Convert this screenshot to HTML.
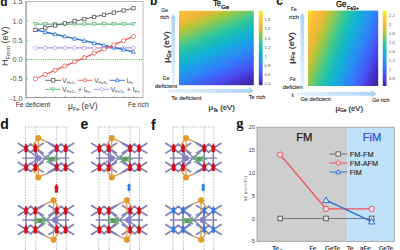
<!DOCTYPE html>
<html><head><meta charset="utf-8"><style>
html,body{margin:0;padding:0;background:#fff;width:400px;height:250px;overflow:hidden}
svg{display:block;font-family:"Liberation Sans", sans-serif}
</style></head><body>
<svg width="400" height="250" viewBox="0 0 400 250">
<defs><linearGradient id="gb" gradientUnits="userSpaceOnUse" x1="216.3" y1="97.8" x2="174.86" y2="1.13"><stop offset="0.000" stop-color="#3e26a8"/><stop offset="0.070" stop-color="#4636d0"/><stop offset="0.143" stop-color="#4852f4"/><stop offset="0.210" stop-color="#3a6cfb"/><stop offset="0.286" stop-color="#2d87f7"/><stop offset="0.360" stop-color="#1e9ee8"/><stop offset="0.429" stop-color="#11b1d6"/><stop offset="0.500" stop-color="#1cbdb8"/><stop offset="0.571" stop-color="#37c897"/><stop offset="0.640" stop-color="#72c968"/><stop offset="0.714" stop-color="#b0c63a"/><stop offset="0.780" stop-color="#e8b935"/><stop offset="0.857" stop-color="#fbbd3a"/><stop offset="0.930" stop-color="#f6d62c"/><stop offset="1.000" stop-color="#f9fb15"/></linearGradient><linearGradient id="gc" gradientUnits="userSpaceOnUse" x1="391.67" y1="41.76" x2="303.6" y2="8.96"><stop offset="0.000" stop-color="#3e26a8"/><stop offset="0.070" stop-color="#4636d0"/><stop offset="0.143" stop-color="#4852f4"/><stop offset="0.210" stop-color="#3a6cfb"/><stop offset="0.286" stop-color="#2d87f7"/><stop offset="0.360" stop-color="#1e9ee8"/><stop offset="0.429" stop-color="#11b1d6"/><stop offset="0.500" stop-color="#1cbdb8"/><stop offset="0.571" stop-color="#37c897"/><stop offset="0.640" stop-color="#72c968"/><stop offset="0.714" stop-color="#b0c63a"/><stop offset="0.780" stop-color="#e8b935"/><stop offset="0.857" stop-color="#fbbd3a"/><stop offset="0.930" stop-color="#f6d62c"/><stop offset="1.000" stop-color="#f9fb15"/></linearGradient><linearGradient id="cb" gradientUnits="userSpaceOnUse" x1="0" y1="85.2" x2="0" y2="10.8"><stop offset="0.000" stop-color="#3e26a8"/><stop offset="0.070" stop-color="#4636d0"/><stop offset="0.143" stop-color="#4852f4"/><stop offset="0.210" stop-color="#3a6cfb"/><stop offset="0.286" stop-color="#2d87f7"/><stop offset="0.360" stop-color="#1e9ee8"/><stop offset="0.429" stop-color="#11b1d6"/><stop offset="0.500" stop-color="#1cbdb8"/><stop offset="0.571" stop-color="#37c897"/><stop offset="0.640" stop-color="#72c968"/><stop offset="0.714" stop-color="#b0c63a"/><stop offset="0.780" stop-color="#e8b935"/><stop offset="0.857" stop-color="#fbbd3a"/><stop offset="0.930" stop-color="#f6d62c"/><stop offset="1.000" stop-color="#f9fb15"/></linearGradient><linearGradient id="cc" gradientUnits="userSpaceOnUse" x1="0" y1="86" x2="0" y2="10.6"><stop offset="0.000" stop-color="#3e26a8"/><stop offset="0.070" stop-color="#4636d0"/><stop offset="0.143" stop-color="#4852f4"/><stop offset="0.210" stop-color="#3a6cfb"/><stop offset="0.286" stop-color="#2d87f7"/><stop offset="0.360" stop-color="#1e9ee8"/><stop offset="0.429" stop-color="#11b1d6"/><stop offset="0.500" stop-color="#1cbdb8"/><stop offset="0.571" stop-color="#37c897"/><stop offset="0.640" stop-color="#72c968"/><stop offset="0.714" stop-color="#b0c63a"/><stop offset="0.780" stop-color="#e8b935"/><stop offset="0.857" stop-color="#fbbd3a"/><stop offset="0.930" stop-color="#f6d62c"/><stop offset="1.000" stop-color="#f9fb15"/></linearGradient><linearGradient id="av" x1="0" y1="1" x2="0" y2="0"><stop offset="0" stop-color="#eaf4fd"/><stop offset="1" stop-color="#a9d2f5"/></linearGradient><linearGradient id="ah" x1="0" y1="0" x2="1" y2="0"><stop offset="0" stop-color="#eaf4fd"/><stop offset="1" stop-color="#a9d2f5"/></linearGradient></defs>
<rect x="26" y="1.5" width="117" height="96" fill="none" stroke="#b4b4b4" stroke-width="0.9"/>
<polyline points="26,1.5 26,97.5 143,97.5" fill="none" stroke="#9a9a9a" stroke-width="1"/>
<line x1="26" y1="1.75" x2="28" y2="1.75" stroke="#9a9a9a" stroke-width="0.8"/>
<line x1="26" y1="21.00" x2="28" y2="21.00" stroke="#9a9a9a" stroke-width="0.8"/>
<line x1="26" y1="40.25" x2="28" y2="40.25" stroke="#9a9a9a" stroke-width="0.8"/>
<line x1="26" y1="59.50" x2="28" y2="59.50" stroke="#9a9a9a" stroke-width="0.8"/>
<line x1="26" y1="78.75" x2="28" y2="78.75" stroke="#9a9a9a" stroke-width="0.8"/>
<line x1="26" y1="98.00" x2="28" y2="98.00" stroke="#9a9a9a" stroke-width="0.8"/>
<line x1="26" y1="11.38" x2="27.2" y2="11.38" stroke="#9a9a9a" stroke-width="0.6"/>
<line x1="26" y1="30.62" x2="27.2" y2="30.62" stroke="#9a9a9a" stroke-width="0.6"/>
<line x1="26" y1="49.88" x2="27.2" y2="49.88" stroke="#9a9a9a" stroke-width="0.6"/>
<line x1="26" y1="69.12" x2="27.2" y2="69.12" stroke="#9a9a9a" stroke-width="0.6"/>
<line x1="26" y1="88.38" x2="27.2" y2="88.38" stroke="#9a9a9a" stroke-width="0.6"/>
<line x1="35.40" y1="97.5" x2="35.40" y2="96" stroke="#9a9a9a" stroke-width="0.6"/>
<line x1="45.20" y1="97.5" x2="45.20" y2="96" stroke="#9a9a9a" stroke-width="0.6"/>
<line x1="55.00" y1="97.5" x2="55.00" y2="96" stroke="#9a9a9a" stroke-width="0.6"/>
<line x1="64.80" y1="97.5" x2="64.80" y2="96" stroke="#9a9a9a" stroke-width="0.6"/>
<line x1="74.60" y1="97.5" x2="74.60" y2="96" stroke="#9a9a9a" stroke-width="0.6"/>
<line x1="84.40" y1="97.5" x2="84.40" y2="96" stroke="#9a9a9a" stroke-width="0.6"/>
<line x1="94.20" y1="97.5" x2="94.20" y2="96" stroke="#9a9a9a" stroke-width="0.6"/>
<line x1="104.00" y1="97.5" x2="104.00" y2="96" stroke="#9a9a9a" stroke-width="0.6"/>
<line x1="113.80" y1="97.5" x2="113.80" y2="96" stroke="#9a9a9a" stroke-width="0.6"/>
<line x1="123.60" y1="97.5" x2="123.60" y2="96" stroke="#9a9a9a" stroke-width="0.6"/>
<line x1="133.40" y1="97.5" x2="133.40" y2="96" stroke="#9a9a9a" stroke-width="0.6"/>
<text x="22.5" y="4.35" font-size="7.2" fill="#505050" text-anchor="end">1.5</text>
<text x="22.5" y="23.60" font-size="7.2" fill="#505050" text-anchor="end">1.0</text>
<text x="22.5" y="42.85" font-size="7.2" fill="#505050" text-anchor="end">0.5</text>
<text x="22.5" y="62.10" font-size="7.2" fill="#505050" text-anchor="end">0.0</text>
<text x="22.5" y="81.35" font-size="7.2" fill="#505050" text-anchor="end">-0.5</text>
<text x="22.5" y="100.60" font-size="7.2" fill="#505050" text-anchor="end">-1.0</text>
<line x1="26" y1="59.5" x2="143" y2="59.5" stroke="#3aa63a" stroke-width="0.8" stroke-dasharray="1.2 1.2"/>
<polyline points="35.40,47.95 45.20,47.95 55.00,47.95 64.80,47.95 74.60,47.95 84.40,47.95 94.20,47.95 104.00,47.95 113.80,47.95 123.60,47.95 133.40,47.95" fill="none" stroke="#b292e8" stroke-width="1.2"/>
<polygon points="35.40,45.67 33.12,47.95 35.40,50.23 37.68,47.95" fill="#fff" stroke="#b292e8" stroke-width="0.8"/>
<polygon points="45.20,45.67 42.92,47.95 45.20,50.23 47.48,47.95" fill="#fff" stroke="#b292e8" stroke-width="0.8"/>
<polygon points="55.00,45.67 52.72,47.95 55.00,50.23 57.28,47.95" fill="#fff" stroke="#b292e8" stroke-width="0.8"/>
<polygon points="64.80,45.67 62.52,47.95 64.80,50.23 67.08,47.95" fill="#fff" stroke="#b292e8" stroke-width="0.8"/>
<polygon points="74.60,45.67 72.32,47.95 74.60,50.23 76.88,47.95" fill="#fff" stroke="#b292e8" stroke-width="0.8"/>
<polygon points="84.40,45.67 82.12,47.95 84.40,50.23 86.68,47.95" fill="#fff" stroke="#b292e8" stroke-width="0.8"/>
<polygon points="94.20,45.67 91.92,47.95 94.20,50.23 96.48,47.95" fill="#fff" stroke="#b292e8" stroke-width="0.8"/>
<polygon points="104.00,45.67 101.72,47.95 104.00,50.23 106.28,47.95" fill="#fff" stroke="#b292e8" stroke-width="0.8"/>
<polygon points="113.80,45.67 111.52,47.95 113.80,50.23 116.08,47.95" fill="#fff" stroke="#b292e8" stroke-width="0.8"/>
<polygon points="123.60,45.67 121.32,47.95 123.60,50.23 125.88,47.95" fill="#fff" stroke="#b292e8" stroke-width="0.8"/>
<polygon points="133.40,45.67 131.12,47.95 133.40,50.23 135.68,47.95" fill="#fff" stroke="#b292e8" stroke-width="0.8"/>
<polyline points="35.40,24.08 45.20,24.08 55.00,24.08 64.80,24.08 74.60,24.08 84.40,24.08 94.20,24.08 104.00,24.08 113.80,24.08 123.60,24.08 133.40,24.08" fill="none" stroke="#5cb87a" stroke-width="1.2"/>
<polygon points="35.40,26.17 33.31,22.56 37.49,22.56" fill="#fff" stroke="#5cb87a" stroke-width="0.8"/>
<polygon points="45.20,26.17 43.11,22.56 47.29,22.56" fill="#fff" stroke="#5cb87a" stroke-width="0.8"/>
<polygon points="55.00,26.17 52.91,22.56 57.09,22.56" fill="#fff" stroke="#5cb87a" stroke-width="0.8"/>
<polygon points="64.80,26.17 62.71,22.56 66.89,22.56" fill="#fff" stroke="#5cb87a" stroke-width="0.8"/>
<polygon points="74.60,26.17 72.51,22.56 76.69,22.56" fill="#fff" stroke="#5cb87a" stroke-width="0.8"/>
<polygon points="84.40,26.17 82.31,22.56 86.49,22.56" fill="#fff" stroke="#5cb87a" stroke-width="0.8"/>
<polygon points="94.20,26.17 92.11,22.56 96.29,22.56" fill="#fff" stroke="#5cb87a" stroke-width="0.8"/>
<polygon points="104.00,26.17 101.91,22.56 106.09,22.56" fill="#fff" stroke="#5cb87a" stroke-width="0.8"/>
<polygon points="113.80,26.17 111.71,22.56 115.89,22.56" fill="#fff" stroke="#5cb87a" stroke-width="0.8"/>
<polygon points="123.60,26.17 121.51,22.56 125.69,22.56" fill="#fff" stroke="#5cb87a" stroke-width="0.8"/>
<polygon points="133.40,26.17 131.31,22.56 135.49,22.56" fill="#fff" stroke="#5cb87a" stroke-width="0.8"/>
<polyline points="35.40,29.86 45.20,32.05 55.00,34.24 64.80,36.44 74.60,38.63 84.40,40.83 94.20,43.02 104.00,45.22 113.80,47.41 123.60,49.61 133.40,51.80" fill="none" stroke="#3272d4" stroke-width="1.5"/>
<polygon points="35.40,27.77 33.31,31.38 37.49,31.38" fill="#fff" stroke="#3272d4" stroke-width="0.8"/>
<polygon points="45.20,29.96 43.11,33.57 47.29,33.57" fill="#fff" stroke="#3272d4" stroke-width="0.8"/>
<polygon points="55.00,32.15 52.91,35.76 57.09,35.76" fill="#fff" stroke="#3272d4" stroke-width="0.8"/>
<polygon points="64.80,34.35 62.71,37.96 66.89,37.96" fill="#fff" stroke="#3272d4" stroke-width="0.8"/>
<polygon points="74.60,36.54 72.51,40.15 76.69,40.15" fill="#fff" stroke="#3272d4" stroke-width="0.8"/>
<polygon points="84.40,38.74 82.31,42.35 86.49,42.35" fill="#fff" stroke="#3272d4" stroke-width="0.8"/>
<polygon points="94.20,40.93 92.11,44.54 96.29,44.54" fill="#fff" stroke="#3272d4" stroke-width="0.8"/>
<polygon points="104.00,43.13 101.91,46.74 106.09,46.74" fill="#fff" stroke="#3272d4" stroke-width="0.8"/>
<polygon points="113.80,45.32 111.71,48.93 115.89,48.93" fill="#fff" stroke="#3272d4" stroke-width="0.8"/>
<polygon points="123.60,47.52 121.51,51.13 125.69,51.13" fill="#fff" stroke="#3272d4" stroke-width="0.8"/>
<polygon points="133.40,49.71 131.31,53.32 135.49,53.32" fill="#fff" stroke="#3272d4" stroke-width="0.8"/>
<polyline points="35.40,29.86 45.20,27.70 55.00,25.54 64.80,23.39 74.60,21.23 84.40,19.07 94.20,16.92 104.00,14.76 113.80,12.61 123.60,10.45 133.40,8.29" fill="none" stroke="#5a5a5a" stroke-width="1.0"/>
<rect x="33.75" y="28.21" width="3.30" height="3.30" fill="#fff" stroke="#5a5a5a" stroke-width="0.8"/>
<rect x="43.55" y="26.05" width="3.30" height="3.30" fill="#fff" stroke="#5a5a5a" stroke-width="0.8"/>
<rect x="53.35" y="23.89" width="3.30" height="3.30" fill="#fff" stroke="#5a5a5a" stroke-width="0.8"/>
<rect x="63.15" y="21.74" width="3.30" height="3.30" fill="#fff" stroke="#5a5a5a" stroke-width="0.8"/>
<rect x="72.95" y="19.58" width="3.30" height="3.30" fill="#fff" stroke="#5a5a5a" stroke-width="0.8"/>
<rect x="82.75" y="17.42" width="3.30" height="3.30" fill="#fff" stroke="#5a5a5a" stroke-width="0.8"/>
<rect x="92.55" y="15.27" width="3.30" height="3.30" fill="#fff" stroke="#5a5a5a" stroke-width="0.8"/>
<rect x="102.35" y="13.11" width="3.30" height="3.30" fill="#fff" stroke="#5a5a5a" stroke-width="0.8"/>
<rect x="112.15" y="10.96" width="3.30" height="3.30" fill="#fff" stroke="#5a5a5a" stroke-width="0.8"/>
<rect x="121.95" y="8.80" width="3.30" height="3.30" fill="#fff" stroke="#5a5a5a" stroke-width="0.8"/>
<rect x="131.75" y="6.64" width="3.30" height="3.30" fill="#fff" stroke="#5a5a5a" stroke-width="0.8"/>
<polyline points="35.40,78.75 45.20,74.52 55.00,70.28 64.80,66.05 74.60,61.81 84.40,57.57 94.20,53.34 104.00,49.10 113.80,44.87 123.60,40.64 133.40,36.40" fill="none" stroke="#f0595a" stroke-width="1.3"/>
<circle cx="35.40" cy="78.75" r="2.10" fill="#fff" stroke="#f0595a" stroke-width="0.8"/>
<circle cx="45.20" cy="74.52" r="2.10" fill="#fff" stroke="#f0595a" stroke-width="0.8"/>
<circle cx="55.00" cy="70.28" r="2.10" fill="#fff" stroke="#f0595a" stroke-width="0.8"/>
<circle cx="64.80" cy="66.05" r="2.10" fill="#fff" stroke="#f0595a" stroke-width="0.8"/>
<circle cx="74.60" cy="61.81" r="2.10" fill="#fff" stroke="#f0595a" stroke-width="0.8"/>
<circle cx="84.40" cy="57.57" r="2.10" fill="#fff" stroke="#f0595a" stroke-width="0.8"/>
<circle cx="94.20" cy="53.34" r="2.10" fill="#fff" stroke="#f0595a" stroke-width="0.8"/>
<circle cx="104.00" cy="49.10" r="2.10" fill="#fff" stroke="#f0595a" stroke-width="0.8"/>
<circle cx="113.80" cy="44.87" r="2.10" fill="#fff" stroke="#f0595a" stroke-width="0.8"/>
<circle cx="123.60" cy="40.64" r="2.10" fill="#fff" stroke="#f0595a" stroke-width="0.8"/>
<circle cx="133.40" cy="36.40" r="2.10" fill="#fff" stroke="#f0595a" stroke-width="0.8"/>
<line x1="45.2" y1="80.3" x2="61" y2="80.3" stroke="#5a5a5a" stroke-width="0.9"/>
<rect x="51.30" y="78.50" width="3.60" height="3.60" fill="#fff" stroke="#5a5a5a" stroke-width="0.75"/>
<line x1="77.5" y1="80.3" x2="92.5" y2="80.3" stroke="#f0595a" stroke-width="0.9"/>
<circle cx="85.00" cy="80.30" r="1.80" fill="#fff" stroke="#f0595a" stroke-width="0.75"/>
<line x1="109.5" y1="80.3" x2="125.2" y2="80.3" stroke="#3272d4" stroke-width="0.9"/>
<polygon points="117.35,78.32 115.37,81.74 119.33,81.74" fill="#fff" stroke="#3272d4" stroke-width="0.75"/>
<line x1="45.2" y1="89.4" x2="61" y2="89.4" stroke="#5cb87a" stroke-width="0.9"/>
<polygon points="53.10,91.38 51.12,87.96 55.08,87.96" fill="#fff" stroke="#5cb87a" stroke-width="0.75"/>
<line x1="94" y1="89.4" x2="109.5" y2="89.4" stroke="#b292e8" stroke-width="0.9"/>
<polygon points="101.75,87.24 99.59,89.40 101.75,91.56 103.91,89.40" fill="#fff" stroke="#b292e8" stroke-width="0.75"/>
<text x="62.3" y="82.6" font-size="7.2" fill="#4a4a4a" textLength="13.6" lengthAdjust="spacingAndGlyphs">V<tspan font-size="4.4" dy="1.4">Fe2+</tspan><tspan dy="-1.4" font-size="7.2"></tspan></text>
<text x="94.2" y="82.6" font-size="7.2" fill="#4a4a4a" textLength="13.8" lengthAdjust="spacingAndGlyphs">V<tspan font-size="4.4" dy="1.4">Fe3+</tspan><tspan dy="-1.4" font-size="7.2"></tspan></text>
<text x="126.5" y="82.6" font-size="7.2" fill="#4a4a4a" textLength="7" lengthAdjust="spacingAndGlyphs">I<tspan font-size="4.4" dy="1.4">Fe</tspan><tspan dy="-1.4" font-size="7.2"></tspan></text>
<text x="62.3" y="91.8" font-size="7.2" fill="#4a4a4a" textLength="28" lengthAdjust="spacingAndGlyphs">V<tspan font-size="4.4" dy="1.4">Fe2+</tspan><tspan dy="-1.4" font-size="7.2"> + I<tspan font-size="4.4" dy="1.4">Fe</tspan></tspan></text>
<text x="110.8" y="91.8" font-size="7.2" fill="#4a4a4a" textLength="28.7" lengthAdjust="spacingAndGlyphs">V<tspan font-size="4.4" dy="1.4">Fe3+</tspan><tspan dy="-1.4" font-size="7.2"> + I<tspan font-size="4.4" dy="1.4">Fe</tspan></tspan></text>
<text x="15.7" y="106.7" font-size="7" fill="#333" textLength="34.3" lengthAdjust="spacingAndGlyphs">Fe deficient</text>
<text x="128" y="106.5" font-size="7" fill="#333" textLength="20.8" lengthAdjust="spacingAndGlyphs">Fe rich</text>
<text x="68" y="108.8" font-size="9" fill="#333" textLength="29.5" lengthAdjust="spacingAndGlyphs">μ<tspan font-size="5.8" dy="1.8">Fe</tspan><tspan dy="-1.8"> (eV)</tspan></text>
<text transform="translate(8.1,66) rotate(-90)" font-size="9" fill="#333">H<tspan font-size="5.8" dy="1.8">Form</tspan><tspan dy="-1.8"> (eV)</tspan></text>
<text x="0.3" y="5.8" font-size="12" font-weight="bold" fill="#111">d</text>
<text x="150" y="5" font-size="12" font-weight="bold" fill="#111">b</text>
<rect x="179" y="10.8" width="74.8" height="74.4" fill="url(#gb)"/>
<rect x="258.8" y="10.8" width="3.8" height="74.4" fill="url(#cb)"/>
<text x="264.5" y="21.30" font-size="4.2" fill="#555">1.8</text>
<text x="264.5" y="30.40" font-size="4.2" fill="#555">1.6</text>
<text x="264.5" y="39.50" font-size="4.2" fill="#555">1.4</text>
<text x="264.5" y="48.60" font-size="4.2" fill="#555">1.2</text>
<text x="264.5" y="57.70" font-size="4.2" fill="#555">1</text>
<text x="264.5" y="66.80" font-size="4.2" fill="#555">0.8</text>
<text x="264.5" y="75.90" font-size="4.2" fill="#555">0.6</text>
<text x="264.5" y="85.00" font-size="4.2" fill="#555">0.4</text>
<text x="213.2" y="6.3" font-size="8.2" fill="#1a1a1a" stroke="#1a1a1a" stroke-width="0.35" textLength="7.6" lengthAdjust="spacingAndGlyphs" >Te</text>
<text x="221.2" y="9.4" font-size="5.4" fill="#1a1a1a" stroke="#1a1a1a" stroke-width="0.25" textLength="7.8" lengthAdjust="spacingAndGlyphs" >Ge</text>
<polygon points="171.5,85 171.5,18 170.6,18 173.3,14.3 176,18 175.1,18 175.1,85" fill="url(#av)"/>
<polygon points="168,88.9 249,88.9 249,87 253.5,90.8 249,94.6 249,92.7 168,92.7" fill="url(#ah)"/>
<text x="161.2" y="12.1" font-size="5.5" fill="#2e2e2e" stroke="#2e2e2e" stroke-width="0.12" textLength="6.8" lengthAdjust="spacingAndGlyphs" >Ge</text>
<text x="160.2" y="19.1" font-size="5.5" fill="#2e2e2e" stroke="#2e2e2e" stroke-width="0.12" textLength="8.9" lengthAdjust="spacingAndGlyphs" >rich</text>
<text x="162.6" y="79.9" font-size="5.5" fill="#2e2e2e" stroke="#2e2e2e" stroke-width="0.12" textLength="7" lengthAdjust="spacingAndGlyphs" >Ge</text>
<text x="154.9" y="88.1" font-size="5.8" fill="#2e2e2e" stroke="#2e2e2e" stroke-width="0.12" textLength="22.4" lengthAdjust="spacingAndGlyphs" >deficient</text>
<text x="171.3" y="99.8" font-size="6" fill="#2e2e2e" stroke="#2e2e2e" stroke-width="0.12" textLength="30" lengthAdjust="spacingAndGlyphs" >Te deficient</text>
<text x="248.8" y="99.1" font-size="5.2" fill="#2e2e2e" stroke="#2e2e2e" stroke-width="0.12" textLength="16.6" lengthAdjust="spacingAndGlyphs" >Te rich</text>
<text x="208.5" y="110.2" font-size="8" fill="#262626" stroke="#262626" stroke-width="0.2" textLength="26.3" lengthAdjust="spacingAndGlyphs">μ<tspan font-size="5" dy="1.3">Te</tspan><tspan dy="-1.3"> (eV)</tspan></text>
<text transform="translate(169.2,62.8) rotate(-90)" font-size="8" fill="#262626" stroke="#262626" stroke-width="0.2" textLength="31.5" lengthAdjust="spacingAndGlyphs">μ<tspan font-size="5" dy="1.3">Ge</tspan><tspan dy="-1.3"> (eV)</tspan></text>
<text x="276.3" y="5.2" font-size="12" font-weight="bold" fill="#111">c</text>
<rect x="308" y="10.6" width="70.2" height="75.4" fill="url(#gc)"/>
<rect x="382.7" y="10.6" width="3.8" height="75.4" fill="url(#cc)"/>
<text x="389" y="17.00" font-size="4.2" fill="#555">2.2</text>
<text x="389" y="26.00" font-size="4.2" fill="#555">2</text>
<text x="389" y="35.00" font-size="4.2" fill="#555">1.8</text>
<text x="389" y="44.00" font-size="4.2" fill="#555">1.6</text>
<text x="389" y="53.00" font-size="4.2" fill="#555">1.4</text>
<text x="389" y="62.00" font-size="4.2" fill="#555">1.2</text>
<text x="389" y="71.00" font-size="4.2" fill="#555">1</text>
<text x="389" y="80.00" font-size="4.2" fill="#555">0.8</text>
<text x="336" y="7.2" font-size="8.2" fill="#1a1a1a" stroke="#1a1a1a" stroke-width="0.35" textLength="10.5" lengthAdjust="spacingAndGlyphs" >Ge</text>
<text x="347" y="9.8" font-size="5.4" fill="#1a1a1a" stroke="#1a1a1a" stroke-width="0.25" textLength="12" lengthAdjust="spacingAndGlyphs" >Fe3+</text>
<polygon points="300.5,86 300.5,17 299.6,17 302.3,13 305,17 304.1,17 304.1,86" fill="url(#av)"/>
<polygon points="297,91.9 371.5,91.9 371.5,89.9 376.5,93.8 371.5,97.7 371.5,95.7 297,95.7" fill="url(#ah)"/>
<text x="291" y="10.6" font-size="5.5" fill="#2e2e2e" stroke="#2e2e2e" stroke-width="0.12" textLength="5.5" lengthAdjust="spacingAndGlyphs" >Fe</text>
<text x="289" y="19.1" font-size="5.5" fill="#2e2e2e" stroke="#2e2e2e" stroke-width="0.12" textLength="10" lengthAdjust="spacingAndGlyphs" >rich</text>
<text x="290" y="81" font-size="5.3" fill="#2e2e2e" stroke="#2e2e2e" stroke-width="0.12" textLength="5.6" lengthAdjust="spacingAndGlyphs" >Fe</text>
<text x="282.8" y="89" font-size="5.6" fill="#2e2e2e" stroke="#2e2e2e" stroke-width="0.12" textLength="20" lengthAdjust="spacingAndGlyphs" >deficien</text>
<text x="291.6" y="96.5" font-size="5.3" fill="#2e2e2e" stroke="#2e2e2e" stroke-width="0.12" textLength="2.1" lengthAdjust="spacingAndGlyphs" >t</text>
<text x="300.4" y="101.3" font-size="5.6" fill="#2e2e2e" stroke="#2e2e2e" stroke-width="0.12" textLength="30.4" lengthAdjust="spacingAndGlyphs" >Ge deficient</text>
<text x="372.2" y="101.8" font-size="5.3" fill="#2e2e2e" stroke="#2e2e2e" stroke-width="0.12" textLength="17.3" lengthAdjust="spacingAndGlyphs" >Ge rich</text>
<text x="335.5" y="110.5" font-size="8" fill="#262626" stroke="#262626" stroke-width="0.2" textLength="27.5" lengthAdjust="spacingAndGlyphs">μ<tspan font-size="5" dy="1.3">Ge</tspan><tspan dy="-1.3"> (eV)</tspan></text>
<text transform="translate(293.6,63.7) rotate(-90)" font-size="8" fill="#262626" stroke="#262626" stroke-width="0.2" textLength="31.5" lengthAdjust="spacingAndGlyphs">μ<tspan font-size="5" dy="1.3">Fe</tspan><tspan dy="-1.3"> (eV)</tspan></text>
<text x="0.3" y="129.2" font-size="14" font-weight="bold" fill="#111">d</text>
<text x="80.6" y="128.6" font-size="14" font-weight="bold" fill="#111">e</text>
<text x="151" y="129.6" font-size="14" font-weight="bold" fill="#111">f</text>
<line x1="25.4" y1="127" x2="25.4" y2="250" stroke="#909090" stroke-width="0.6" stroke-dasharray="1.5 1.2"/><line x1="35.8" y1="127" x2="35.8" y2="250" stroke="#909090" stroke-width="0.6" stroke-dasharray="1.5 1.2"/><line x1="56.599999999999994" y1="127" x2="56.599999999999994" y2="250" stroke="#909090" stroke-width="0.6" stroke-dasharray="1.5 1.2"/><line x1="66.19999999999999" y1="127" x2="66.19999999999999" y2="250" stroke="#909090" stroke-width="0.6" stroke-dasharray="1.5 1.2"/><line x1="25.4" y1="127" x2="66.19999999999999" y2="127" stroke="#909090" stroke-width="0.6" stroke-dasharray="1.5 1.2"/><line x1="17.70" y1="143.00" x2="26.00" y2="148.20" stroke="#8080b6" stroke-width="1.7"/><line x1="17.70" y1="153.40" x2="26.00" y2="148.20" stroke="#8080b6" stroke-width="1.7"/><line x1="43.70" y1="143.00" x2="35.40" y2="148.20" stroke="#8080b6" stroke-width="1.7"/><line x1="43.70" y1="153.40" x2="35.40" y2="148.20" stroke="#8080b6" stroke-width="1.7"/><polygon points="26.00,148.20 30.70,143.90 35.40,148.20 30.70,152.50" fill="none" stroke="#8080b6" stroke-width="1.7" stroke-linejoin="round"/><line x1="48.40" y1="143.00" x2="56.70" y2="148.20" stroke="#8080b6" stroke-width="1.7"/><line x1="48.40" y1="153.40" x2="56.70" y2="148.20" stroke="#8080b6" stroke-width="1.7"/><line x1="74.00" y1="143.00" x2="65.70" y2="148.20" stroke="#8080b6" stroke-width="1.7"/><line x1="74.00" y1="153.40" x2="65.70" y2="148.20" stroke="#8080b6" stroke-width="1.7"/><polygon points="56.70,148.20 61.20,143.90 65.70,148.20 61.20,152.50" fill="none" stroke="#8080b6" stroke-width="1.7" stroke-linejoin="round"/><line x1="17.70" y1="162.00" x2="26.00" y2="167.20" stroke="#8080b6" stroke-width="1.7"/><line x1="17.70" y1="172.40" x2="26.00" y2="167.20" stroke="#8080b6" stroke-width="1.7"/><line x1="43.70" y1="162.00" x2="35.40" y2="167.20" stroke="#8080b6" stroke-width="1.7"/><line x1="43.70" y1="172.40" x2="35.40" y2="167.20" stroke="#8080b6" stroke-width="1.7"/><polygon points="26.00,167.20 30.70,162.90 35.40,167.20 30.70,171.50" fill="none" stroke="#8080b6" stroke-width="1.7" stroke-linejoin="round"/><line x1="48.40" y1="162.00" x2="56.70" y2="167.20" stroke="#8080b6" stroke-width="1.7"/><line x1="48.40" y1="172.40" x2="56.70" y2="167.20" stroke="#8080b6" stroke-width="1.7"/><line x1="74.00" y1="162.00" x2="65.70" y2="167.20" stroke="#8080b6" stroke-width="1.7"/><line x1="74.00" y1="172.40" x2="65.70" y2="167.20" stroke="#8080b6" stroke-width="1.7"/><polygon points="56.70,167.20 61.20,162.90 65.70,167.20 61.20,171.50" fill="none" stroke="#8080b6" stroke-width="1.7" stroke-linejoin="round"/><line x1="26.00" y1="150.20" x2="26.00" y2="165.20" stroke="#8080b6" stroke-width="1.5"/><line x1="35.40" y1="150.20" x2="35.40" y2="165.20" stroke="#8080b6" stroke-width="1.5"/><line x1="56.70" y1="150.20" x2="56.70" y2="165.20" stroke="#8080b6" stroke-width="1.5"/><line x1="65.70" y1="150.20" x2="65.70" y2="165.20" stroke="#8080b6" stroke-width="1.5"/><line x1="35.40" y1="148.20" x2="56.70" y2="167.20" stroke="#8080b6" stroke-width="1.5"/><line x1="35.40" y1="167.20" x2="56.70" y2="148.20" stroke="#8080b6" stroke-width="1.5"/><line x1="38.40" y1="158.20" x2="26.00" y2="148.20" stroke="#8080b6" stroke-width="1.3"/><line x1="38.40" y1="158.20" x2="26.00" y2="167.20" stroke="#8080b6" stroke-width="1.3"/><line x1="38.40" y1="158.20" x2="35.40" y2="148.20" stroke="#8080b6" stroke-width="1.3"/><line x1="38.40" y1="158.20" x2="35.40" y2="167.20" stroke="#8080b6" stroke-width="1.3"/><line x1="22.40" y1="158.20" x2="69.40" y2="158.20" stroke="#8080b6" stroke-width="1.3"/><line x1="51.70" y1="159.00" x2="44.70" y2="159.00" stroke="#6aaa6c" stroke-width="1.4"/><line x1="51.70" y1="159.00" x2="59.70" y2="159.00" stroke="#6aaa6c" stroke-width="1.4"/><line x1="51.70" y1="159.00" x2="46.20" y2="155.50" stroke="#6aaa6c" stroke-width="1.4"/><line x1="51.70" y1="159.00" x2="57.20" y2="162.50" stroke="#6aaa6c" stroke-width="1.4"/><line x1="51.70" y1="159.00" x2="46.20" y2="162.50" stroke="#6aaa6c" stroke-width="1.4"/><line x1="51.70" y1="159.00" x2="57.20" y2="155.50" stroke="#6aaa6c" stroke-width="1.4"/><line x1="38.40" y1="138.00" x2="32.40" y2="146.00" stroke="#dc9c48" stroke-width="1.3"/><line x1="38.40" y1="177.40" x2="32.40" y2="169.40" stroke="#dc9c48" stroke-width="1.3"/><line x1="38.40" y1="138.00" x2="38.40" y2="150.00" stroke="#dc9c48" stroke-width="1.3"/><line x1="38.40" y1="177.40" x2="38.40" y2="165.40" stroke="#dc9c48" stroke-width="1.3"/><line x1="38.40" y1="138.00" x2="46.19" y2="141.60" stroke="#dc9c48" stroke-width="1.4"/><line x1="46.19" y1="141.60" x2="55.70" y2="146.00" stroke="#8080b6" stroke-width="1.4"/><line x1="38.40" y1="177.40" x2="46.19" y2="173.80" stroke="#dc9c48" stroke-width="1.4"/><line x1="46.19" y1="173.80" x2="55.70" y2="169.40" stroke="#8080b6" stroke-width="1.4"/><circle cx="38.40" cy="158.20" r="3" fill="#8480c4"/><circle cx="51.70" cy="159.00" r="2.6" fill="#5d9e60"/><circle cx="38.40" cy="138.00" r="3" fill="#e3982c"/><circle cx="38.40" cy="177.40" r="3" fill="#e3982c"/><polygon points="26.00,143.60 23.80,147.20 24.50,147.20 24.50,152.00 27.50,152.00 27.50,147.20 28.20,147.20" fill="#d80a14" stroke="#d80a14" stroke-width="0.3" stroke-linejoin="round"/><polygon points="35.40,143.60 33.20,147.20 33.90,147.20 33.90,152.00 36.90,152.00 36.90,147.20 37.60,147.20" fill="#d80a14" stroke="#d80a14" stroke-width="0.3" stroke-linejoin="round"/><polygon points="56.70,143.60 54.50,147.20 55.20,147.20 55.20,152.00 58.20,152.00 58.20,147.20 58.90,147.20" fill="#d80a14" stroke="#d80a14" stroke-width="0.3" stroke-linejoin="round"/><polygon points="65.70,143.60 63.50,147.20 64.20,147.20 64.20,152.00 67.20,152.00 67.20,147.20 67.90,147.20" fill="#d80a14" stroke="#d80a14" stroke-width="0.3" stroke-linejoin="round"/><polygon points="26.00,162.60 23.80,166.20 24.50,166.20 24.50,171.00 27.50,171.00 27.50,166.20 28.20,166.20" fill="#d80a14" stroke="#d80a14" stroke-width="0.3" stroke-linejoin="round"/><polygon points="35.40,162.60 33.20,166.20 33.90,166.20 33.90,171.00 36.90,171.00 36.90,166.20 37.60,166.20" fill="#d80a14" stroke="#d80a14" stroke-width="0.3" stroke-linejoin="round"/><polygon points="56.70,162.60 54.50,166.20 55.20,166.20 55.20,171.00 58.20,171.00 58.20,166.20 58.90,166.20" fill="#d80a14" stroke="#d80a14" stroke-width="0.3" stroke-linejoin="round"/><polygon points="65.70,162.60 63.50,166.20 64.20,166.20 64.20,171.00 67.20,171.00 67.20,166.20 67.90,166.20" fill="#d80a14" stroke="#d80a14" stroke-width="0.3" stroke-linejoin="round"/><line x1="17.70" y1="205.30" x2="26.00" y2="210.50" stroke="#8080b6" stroke-width="1.7"/><line x1="17.70" y1="215.70" x2="26.00" y2="210.50" stroke="#8080b6" stroke-width="1.7"/><line x1="43.70" y1="205.30" x2="35.40" y2="210.50" stroke="#8080b6" stroke-width="1.7"/><line x1="43.70" y1="215.70" x2="35.40" y2="210.50" stroke="#8080b6" stroke-width="1.7"/><polygon points="26.00,210.50 30.70,206.20 35.40,210.50 30.70,214.80" fill="none" stroke="#8080b6" stroke-width="1.7" stroke-linejoin="round"/><line x1="48.40" y1="205.30" x2="56.70" y2="210.50" stroke="#8080b6" stroke-width="1.7"/><line x1="48.40" y1="215.70" x2="56.70" y2="210.50" stroke="#8080b6" stroke-width="1.7"/><line x1="74.00" y1="205.30" x2="65.70" y2="210.50" stroke="#8080b6" stroke-width="1.7"/><line x1="74.00" y1="215.70" x2="65.70" y2="210.50" stroke="#8080b6" stroke-width="1.7"/><polygon points="56.70,210.50 61.20,206.20 65.70,210.50 61.20,214.80" fill="none" stroke="#8080b6" stroke-width="1.7" stroke-linejoin="round"/><line x1="17.70" y1="224.30" x2="26.00" y2="229.50" stroke="#8080b6" stroke-width="1.7"/><line x1="17.70" y1="234.70" x2="26.00" y2="229.50" stroke="#8080b6" stroke-width="1.7"/><line x1="43.70" y1="224.30" x2="35.40" y2="229.50" stroke="#8080b6" stroke-width="1.7"/><line x1="43.70" y1="234.70" x2="35.40" y2="229.50" stroke="#8080b6" stroke-width="1.7"/><polygon points="26.00,229.50 30.70,225.20 35.40,229.50 30.70,233.80" fill="none" stroke="#8080b6" stroke-width="1.7" stroke-linejoin="round"/><line x1="48.40" y1="224.30" x2="56.70" y2="229.50" stroke="#8080b6" stroke-width="1.7"/><line x1="48.40" y1="234.70" x2="56.70" y2="229.50" stroke="#8080b6" stroke-width="1.7"/><line x1="74.00" y1="224.30" x2="65.70" y2="229.50" stroke="#8080b6" stroke-width="1.7"/><line x1="74.00" y1="234.70" x2="65.70" y2="229.50" stroke="#8080b6" stroke-width="1.7"/><polygon points="56.70,229.50 61.20,225.20 65.70,229.50 61.20,233.80" fill="none" stroke="#8080b6" stroke-width="1.7" stroke-linejoin="round"/><line x1="26.00" y1="212.50" x2="26.00" y2="227.50" stroke="#8080b6" stroke-width="1.5"/><line x1="35.40" y1="212.50" x2="35.40" y2="227.50" stroke="#8080b6" stroke-width="1.5"/><line x1="56.70" y1="212.50" x2="56.70" y2="227.50" stroke="#8080b6" stroke-width="1.5"/><line x1="65.70" y1="212.50" x2="65.70" y2="227.50" stroke="#8080b6" stroke-width="1.5"/><line x1="35.40" y1="210.50" x2="56.70" y2="229.50" stroke="#8080b6" stroke-width="1.5"/><line x1="35.40" y1="229.50" x2="56.70" y2="210.50" stroke="#8080b6" stroke-width="1.5"/><line x1="55.00" y1="220.00" x2="56.70" y2="210.50" stroke="#8080b6" stroke-width="1.3"/><line x1="55.00" y1="220.00" x2="56.70" y2="229.50" stroke="#8080b6" stroke-width="1.3"/><line x1="55.00" y1="220.00" x2="65.70" y2="210.50" stroke="#8080b6" stroke-width="1.3"/><line x1="55.00" y1="220.00" x2="65.70" y2="229.50" stroke="#8080b6" stroke-width="1.3"/><line x1="22.40" y1="220.00" x2="69.40" y2="220.00" stroke="#8080b6" stroke-width="1.3"/><line x1="40.00" y1="220.60" x2="33.00" y2="220.60" stroke="#6aaa6c" stroke-width="1.4"/><line x1="40.00" y1="220.60" x2="48.00" y2="220.60" stroke="#6aaa6c" stroke-width="1.4"/><line x1="40.00" y1="220.60" x2="34.50" y2="217.10" stroke="#6aaa6c" stroke-width="1.4"/><line x1="40.00" y1="220.60" x2="45.50" y2="224.10" stroke="#6aaa6c" stroke-width="1.4"/><line x1="40.00" y1="220.60" x2="34.50" y2="224.10" stroke="#6aaa6c" stroke-width="1.4"/><line x1="40.00" y1="220.60" x2="45.50" y2="217.10" stroke="#6aaa6c" stroke-width="1.4"/><line x1="53.50" y1="200.30" x2="59.70" y2="208.30" stroke="#dc9c48" stroke-width="1.3"/><line x1="53.50" y1="239.70" x2="59.70" y2="231.70" stroke="#dc9c48" stroke-width="1.3"/><line x1="53.50" y1="200.30" x2="53.50" y2="212.30" stroke="#dc9c48" stroke-width="1.3"/><line x1="53.50" y1="239.70" x2="53.50" y2="227.70" stroke="#dc9c48" stroke-width="1.3"/><line x1="53.50" y1="200.30" x2="45.80" y2="203.90" stroke="#dc9c48" stroke-width="1.4"/><line x1="45.80" y1="203.90" x2="36.40" y2="208.30" stroke="#8080b6" stroke-width="1.4"/><line x1="53.50" y1="239.70" x2="45.80" y2="236.10" stroke="#dc9c48" stroke-width="1.4"/><line x1="45.80" y1="236.10" x2="36.40" y2="231.70" stroke="#8080b6" stroke-width="1.4"/><circle cx="55.00" cy="220.00" r="3" fill="#8480c4"/><circle cx="40.00" cy="220.60" r="2.6" fill="#5d9e60"/><circle cx="53.50" cy="200.30" r="3" fill="#e3982c"/><circle cx="53.50" cy="239.70" r="3" fill="#e3982c"/><polygon points="26.00,205.90 23.80,209.50 24.50,209.50 24.50,214.30 27.50,214.30 27.50,209.50 28.20,209.50" fill="#d80a14" stroke="#d80a14" stroke-width="0.3" stroke-linejoin="round"/><polygon points="35.40,205.90 33.20,209.50 33.90,209.50 33.90,214.30 36.90,214.30 36.90,209.50 37.60,209.50" fill="#d80a14" stroke="#d80a14" stroke-width="0.3" stroke-linejoin="round"/><polygon points="56.70,205.90 54.50,209.50 55.20,209.50 55.20,214.30 58.20,214.30 58.20,209.50 58.90,209.50" fill="#d80a14" stroke="#d80a14" stroke-width="0.3" stroke-linejoin="round"/><polygon points="65.70,205.90 63.50,209.50 64.20,209.50 64.20,214.30 67.20,214.30 67.20,209.50 67.90,209.50" fill="#d80a14" stroke="#d80a14" stroke-width="0.3" stroke-linejoin="round"/><polygon points="26.00,224.90 23.80,228.50 24.50,228.50 24.50,233.30 27.50,233.30 27.50,228.50 28.20,228.50" fill="#d80a14" stroke="#d80a14" stroke-width="0.3" stroke-linejoin="round"/><polygon points="35.40,224.90 33.20,228.50 33.90,228.50 33.90,233.30 36.90,233.30 36.90,228.50 37.60,228.50" fill="#d80a14" stroke="#d80a14" stroke-width="0.3" stroke-linejoin="round"/><polygon points="56.70,224.90 54.50,228.50 55.20,228.50 55.20,233.30 58.20,233.30 58.20,228.50 58.90,228.50" fill="#d80a14" stroke="#d80a14" stroke-width="0.3" stroke-linejoin="round"/><polygon points="65.70,224.90 63.50,228.50 64.20,228.50 64.20,233.30 67.20,233.30 67.20,228.50 67.90,228.50" fill="#d80a14" stroke="#d80a14" stroke-width="0.3" stroke-linejoin="round"/><polygon points="56.50,184.00 54.30,187.60 55.00,187.60 55.00,192.40 58.00,192.40 58.00,187.60 58.70,187.60" fill="#d8141e" stroke="#d8141e" stroke-width="0.3" stroke-linejoin="round"/>
<line x1="98.8" y1="127" x2="98.8" y2="250" stroke="#909090" stroke-width="0.6" stroke-dasharray="1.5 1.2"/><line x1="109.2" y1="127" x2="109.2" y2="250" stroke="#909090" stroke-width="0.6" stroke-dasharray="1.5 1.2"/><line x1="130.0" y1="127" x2="130.0" y2="250" stroke="#909090" stroke-width="0.6" stroke-dasharray="1.5 1.2"/><line x1="139.6" y1="127" x2="139.6" y2="250" stroke="#909090" stroke-width="0.6" stroke-dasharray="1.5 1.2"/><line x1="98.8" y1="127" x2="139.6" y2="127" stroke="#909090" stroke-width="0.6" stroke-dasharray="1.5 1.2"/><line x1="91.10" y1="143.00" x2="99.40" y2="148.20" stroke="#8080b6" stroke-width="1.7"/><line x1="91.10" y1="153.40" x2="99.40" y2="148.20" stroke="#8080b6" stroke-width="1.7"/><line x1="117.10" y1="143.00" x2="108.80" y2="148.20" stroke="#8080b6" stroke-width="1.7"/><line x1="117.10" y1="153.40" x2="108.80" y2="148.20" stroke="#8080b6" stroke-width="1.7"/><polygon points="99.40,148.20 104.10,143.90 108.80,148.20 104.10,152.50" fill="none" stroke="#8080b6" stroke-width="1.7" stroke-linejoin="round"/><line x1="121.80" y1="143.00" x2="130.10" y2="148.20" stroke="#8080b6" stroke-width="1.7"/><line x1="121.80" y1="153.40" x2="130.10" y2="148.20" stroke="#8080b6" stroke-width="1.7"/><line x1="147.40" y1="143.00" x2="139.10" y2="148.20" stroke="#8080b6" stroke-width="1.7"/><line x1="147.40" y1="153.40" x2="139.10" y2="148.20" stroke="#8080b6" stroke-width="1.7"/><polygon points="130.10,148.20 134.60,143.90 139.10,148.20 134.60,152.50" fill="none" stroke="#8080b6" stroke-width="1.7" stroke-linejoin="round"/><line x1="91.10" y1="162.00" x2="99.40" y2="167.20" stroke="#8080b6" stroke-width="1.7"/><line x1="91.10" y1="172.40" x2="99.40" y2="167.20" stroke="#8080b6" stroke-width="1.7"/><line x1="117.10" y1="162.00" x2="108.80" y2="167.20" stroke="#8080b6" stroke-width="1.7"/><line x1="117.10" y1="172.40" x2="108.80" y2="167.20" stroke="#8080b6" stroke-width="1.7"/><polygon points="99.40,167.20 104.10,162.90 108.80,167.20 104.10,171.50" fill="none" stroke="#8080b6" stroke-width="1.7" stroke-linejoin="round"/><line x1="121.80" y1="162.00" x2="130.10" y2="167.20" stroke="#8080b6" stroke-width="1.7"/><line x1="121.80" y1="172.40" x2="130.10" y2="167.20" stroke="#8080b6" stroke-width="1.7"/><line x1="147.40" y1="162.00" x2="139.10" y2="167.20" stroke="#8080b6" stroke-width="1.7"/><line x1="147.40" y1="172.40" x2="139.10" y2="167.20" stroke="#8080b6" stroke-width="1.7"/><polygon points="130.10,167.20 134.60,162.90 139.10,167.20 134.60,171.50" fill="none" stroke="#8080b6" stroke-width="1.7" stroke-linejoin="round"/><line x1="99.40" y1="150.20" x2="99.40" y2="165.20" stroke="#8080b6" stroke-width="1.5"/><line x1="108.80" y1="150.20" x2="108.80" y2="165.20" stroke="#8080b6" stroke-width="1.5"/><line x1="130.10" y1="150.20" x2="130.10" y2="165.20" stroke="#8080b6" stroke-width="1.5"/><line x1="139.10" y1="150.20" x2="139.10" y2="165.20" stroke="#8080b6" stroke-width="1.5"/><line x1="108.80" y1="148.20" x2="130.10" y2="167.20" stroke="#8080b6" stroke-width="1.5"/><line x1="108.80" y1="167.20" x2="130.10" y2="148.20" stroke="#8080b6" stroke-width="1.5"/><line x1="111.80" y1="158.20" x2="99.40" y2="148.20" stroke="#8080b6" stroke-width="1.3"/><line x1="111.80" y1="158.20" x2="99.40" y2="167.20" stroke="#8080b6" stroke-width="1.3"/><line x1="111.80" y1="158.20" x2="108.80" y2="148.20" stroke="#8080b6" stroke-width="1.3"/><line x1="111.80" y1="158.20" x2="108.80" y2="167.20" stroke="#8080b6" stroke-width="1.3"/><line x1="95.80" y1="158.20" x2="142.80" y2="158.20" stroke="#8080b6" stroke-width="1.3"/><line x1="125.10" y1="159.00" x2="118.10" y2="159.00" stroke="#6aaa6c" stroke-width="1.4"/><line x1="125.10" y1="159.00" x2="133.10" y2="159.00" stroke="#6aaa6c" stroke-width="1.4"/><line x1="125.10" y1="159.00" x2="119.60" y2="155.50" stroke="#6aaa6c" stroke-width="1.4"/><line x1="125.10" y1="159.00" x2="130.60" y2="162.50" stroke="#6aaa6c" stroke-width="1.4"/><line x1="125.10" y1="159.00" x2="119.60" y2="162.50" stroke="#6aaa6c" stroke-width="1.4"/><line x1="125.10" y1="159.00" x2="130.60" y2="155.50" stroke="#6aaa6c" stroke-width="1.4"/><line x1="111.80" y1="138.00" x2="105.80" y2="146.00" stroke="#dc9c48" stroke-width="1.3"/><line x1="111.80" y1="177.40" x2="105.80" y2="169.40" stroke="#dc9c48" stroke-width="1.3"/><line x1="111.80" y1="138.00" x2="111.80" y2="150.00" stroke="#dc9c48" stroke-width="1.3"/><line x1="111.80" y1="177.40" x2="111.80" y2="165.40" stroke="#dc9c48" stroke-width="1.3"/><line x1="111.80" y1="138.00" x2="119.58" y2="141.60" stroke="#dc9c48" stroke-width="1.4"/><line x1="119.58" y1="141.60" x2="129.10" y2="146.00" stroke="#8080b6" stroke-width="1.4"/><line x1="111.80" y1="177.40" x2="119.58" y2="173.80" stroke="#dc9c48" stroke-width="1.4"/><line x1="119.58" y1="173.80" x2="129.10" y2="169.40" stroke="#8080b6" stroke-width="1.4"/><circle cx="111.80" cy="158.20" r="3" fill="#8480c4"/><circle cx="125.10" cy="159.00" r="2.6" fill="#5d9e60"/><circle cx="111.80" cy="138.00" r="3" fill="#e3982c"/><circle cx="111.80" cy="177.40" r="3" fill="#e3982c"/><polygon points="99.40,143.60 97.20,147.20 97.90,147.20 97.90,152.00 100.90,152.00 100.90,147.20 101.60,147.20" fill="#d80a14" stroke="#d80a14" stroke-width="0.3" stroke-linejoin="round"/><polygon points="108.80,143.60 106.60,147.20 107.30,147.20 107.30,152.00 110.30,152.00 110.30,147.20 111.00,147.20" fill="#d80a14" stroke="#d80a14" stroke-width="0.3" stroke-linejoin="round"/><polygon points="130.10,143.60 127.90,147.20 128.60,147.20 128.60,152.00 131.60,152.00 131.60,147.20 132.30,147.20" fill="#d80a14" stroke="#d80a14" stroke-width="0.3" stroke-linejoin="round"/><polygon points="139.10,143.60 136.90,147.20 137.60,147.20 137.60,152.00 140.60,152.00 140.60,147.20 141.30,147.20" fill="#d80a14" stroke="#d80a14" stroke-width="0.3" stroke-linejoin="round"/><polygon points="99.40,162.60 97.20,166.20 97.90,166.20 97.90,171.00 100.90,171.00 100.90,166.20 101.60,166.20" fill="#d80a14" stroke="#d80a14" stroke-width="0.3" stroke-linejoin="round"/><polygon points="108.80,162.60 106.60,166.20 107.30,166.20 107.30,171.00 110.30,171.00 110.30,166.20 111.00,166.20" fill="#d80a14" stroke="#d80a14" stroke-width="0.3" stroke-linejoin="round"/><polygon points="130.10,162.60 127.90,166.20 128.60,166.20 128.60,171.00 131.60,171.00 131.60,166.20 132.30,166.20" fill="#d80a14" stroke="#d80a14" stroke-width="0.3" stroke-linejoin="round"/><polygon points="139.10,162.60 136.90,166.20 137.60,166.20 137.60,171.00 140.60,171.00 140.60,166.20 141.30,166.20" fill="#d80a14" stroke="#d80a14" stroke-width="0.3" stroke-linejoin="round"/><line x1="91.10" y1="205.30" x2="99.40" y2="210.50" stroke="#8080b6" stroke-width="1.7"/><line x1="91.10" y1="215.70" x2="99.40" y2="210.50" stroke="#8080b6" stroke-width="1.7"/><line x1="117.10" y1="205.30" x2="108.80" y2="210.50" stroke="#8080b6" stroke-width="1.7"/><line x1="117.10" y1="215.70" x2="108.80" y2="210.50" stroke="#8080b6" stroke-width="1.7"/><polygon points="99.40,210.50 104.10,206.20 108.80,210.50 104.10,214.80" fill="none" stroke="#8080b6" stroke-width="1.7" stroke-linejoin="round"/><line x1="121.80" y1="205.30" x2="130.10" y2="210.50" stroke="#8080b6" stroke-width="1.7"/><line x1="121.80" y1="215.70" x2="130.10" y2="210.50" stroke="#8080b6" stroke-width="1.7"/><line x1="147.40" y1="205.30" x2="139.10" y2="210.50" stroke="#8080b6" stroke-width="1.7"/><line x1="147.40" y1="215.70" x2="139.10" y2="210.50" stroke="#8080b6" stroke-width="1.7"/><polygon points="130.10,210.50 134.60,206.20 139.10,210.50 134.60,214.80" fill="none" stroke="#8080b6" stroke-width="1.7" stroke-linejoin="round"/><line x1="91.10" y1="224.30" x2="99.40" y2="229.50" stroke="#8080b6" stroke-width="1.7"/><line x1="91.10" y1="234.70" x2="99.40" y2="229.50" stroke="#8080b6" stroke-width="1.7"/><line x1="117.10" y1="224.30" x2="108.80" y2="229.50" stroke="#8080b6" stroke-width="1.7"/><line x1="117.10" y1="234.70" x2="108.80" y2="229.50" stroke="#8080b6" stroke-width="1.7"/><polygon points="99.40,229.50 104.10,225.20 108.80,229.50 104.10,233.80" fill="none" stroke="#8080b6" stroke-width="1.7" stroke-linejoin="round"/><line x1="121.80" y1="224.30" x2="130.10" y2="229.50" stroke="#8080b6" stroke-width="1.7"/><line x1="121.80" y1="234.70" x2="130.10" y2="229.50" stroke="#8080b6" stroke-width="1.7"/><line x1="147.40" y1="224.30" x2="139.10" y2="229.50" stroke="#8080b6" stroke-width="1.7"/><line x1="147.40" y1="234.70" x2="139.10" y2="229.50" stroke="#8080b6" stroke-width="1.7"/><polygon points="130.10,229.50 134.60,225.20 139.10,229.50 134.60,233.80" fill="none" stroke="#8080b6" stroke-width="1.7" stroke-linejoin="round"/><line x1="99.40" y1="212.50" x2="99.40" y2="227.50" stroke="#8080b6" stroke-width="1.5"/><line x1="108.80" y1="212.50" x2="108.80" y2="227.50" stroke="#8080b6" stroke-width="1.5"/><line x1="130.10" y1="212.50" x2="130.10" y2="227.50" stroke="#8080b6" stroke-width="1.5"/><line x1="139.10" y1="212.50" x2="139.10" y2="227.50" stroke="#8080b6" stroke-width="1.5"/><line x1="108.80" y1="210.50" x2="130.10" y2="229.50" stroke="#8080b6" stroke-width="1.5"/><line x1="108.80" y1="229.50" x2="130.10" y2="210.50" stroke="#8080b6" stroke-width="1.5"/><line x1="128.40" y1="220.00" x2="130.10" y2="210.50" stroke="#8080b6" stroke-width="1.3"/><line x1="128.40" y1="220.00" x2="130.10" y2="229.50" stroke="#8080b6" stroke-width="1.3"/><line x1="128.40" y1="220.00" x2="139.10" y2="210.50" stroke="#8080b6" stroke-width="1.3"/><line x1="128.40" y1="220.00" x2="139.10" y2="229.50" stroke="#8080b6" stroke-width="1.3"/><line x1="95.80" y1="220.00" x2="142.80" y2="220.00" stroke="#8080b6" stroke-width="1.3"/><line x1="113.40" y1="220.60" x2="106.40" y2="220.60" stroke="#6aaa6c" stroke-width="1.4"/><line x1="113.40" y1="220.60" x2="121.40" y2="220.60" stroke="#6aaa6c" stroke-width="1.4"/><line x1="113.40" y1="220.60" x2="107.90" y2="217.10" stroke="#6aaa6c" stroke-width="1.4"/><line x1="113.40" y1="220.60" x2="118.90" y2="224.10" stroke="#6aaa6c" stroke-width="1.4"/><line x1="113.40" y1="220.60" x2="107.90" y2="224.10" stroke="#6aaa6c" stroke-width="1.4"/><line x1="113.40" y1="220.60" x2="118.90" y2="217.10" stroke="#6aaa6c" stroke-width="1.4"/><line x1="126.90" y1="200.30" x2="133.10" y2="208.30" stroke="#dc9c48" stroke-width="1.3"/><line x1="126.90" y1="239.70" x2="133.10" y2="231.70" stroke="#dc9c48" stroke-width="1.3"/><line x1="126.90" y1="200.30" x2="126.90" y2="212.30" stroke="#dc9c48" stroke-width="1.3"/><line x1="126.90" y1="239.70" x2="126.90" y2="227.70" stroke="#dc9c48" stroke-width="1.3"/><line x1="126.90" y1="200.30" x2="119.20" y2="203.90" stroke="#dc9c48" stroke-width="1.4"/><line x1="119.20" y1="203.90" x2="109.80" y2="208.30" stroke="#8080b6" stroke-width="1.4"/><line x1="126.90" y1="239.70" x2="119.20" y2="236.10" stroke="#dc9c48" stroke-width="1.4"/><line x1="119.20" y1="236.10" x2="109.80" y2="231.70" stroke="#8080b6" stroke-width="1.4"/><circle cx="128.40" cy="220.00" r="3" fill="#8480c4"/><circle cx="113.40" cy="220.60" r="2.6" fill="#5d9e60"/><circle cx="126.90" cy="200.30" r="3" fill="#e3982c"/><circle cx="126.90" cy="239.70" r="3" fill="#e3982c"/><polygon points="99.40,205.90 97.20,209.50 97.90,209.50 97.90,214.30 100.90,214.30 100.90,209.50 101.60,209.50" fill="#d80a14" stroke="#d80a14" stroke-width="0.3" stroke-linejoin="round"/><polygon points="108.80,205.90 106.60,209.50 107.30,209.50 107.30,214.30 110.30,214.30 110.30,209.50 111.00,209.50" fill="#d80a14" stroke="#d80a14" stroke-width="0.3" stroke-linejoin="round"/><polygon points="130.10,205.90 127.90,209.50 128.60,209.50 128.60,214.30 131.60,214.30 131.60,209.50 132.30,209.50" fill="#d80a14" stroke="#d80a14" stroke-width="0.3" stroke-linejoin="round"/><polygon points="139.10,205.90 136.90,209.50 137.60,209.50 137.60,214.30 140.60,214.30 140.60,209.50 141.30,209.50" fill="#d80a14" stroke="#d80a14" stroke-width="0.3" stroke-linejoin="round"/><polygon points="99.40,224.90 97.20,228.50 97.90,228.50 97.90,233.30 100.90,233.30 100.90,228.50 101.60,228.50" fill="#d80a14" stroke="#d80a14" stroke-width="0.3" stroke-linejoin="round"/><polygon points="108.80,224.90 106.60,228.50 107.30,228.50 107.30,233.30 110.30,233.30 110.30,228.50 111.00,228.50" fill="#d80a14" stroke="#d80a14" stroke-width="0.3" stroke-linejoin="round"/><polygon points="130.10,224.90 127.90,228.50 128.60,228.50 128.60,233.30 131.60,233.30 131.60,228.50 132.30,228.50" fill="#d80a14" stroke="#d80a14" stroke-width="0.3" stroke-linejoin="round"/><polygon points="139.10,224.90 136.90,228.50 137.60,228.50 137.60,233.30 140.60,233.30 140.60,228.50 141.30,228.50" fill="#d80a14" stroke="#d80a14" stroke-width="0.3" stroke-linejoin="round"/><polygon points="129.00,183.30 126.90,185.90 127.70,185.90 127.70,189.10 126.90,189.10 129.00,191.70 131.10,189.10 130.30,189.10 130.30,185.90 131.10,185.90" fill="#2a7de8"/>
<line x1="173.0" y1="127" x2="173.0" y2="250" stroke="#909090" stroke-width="0.6" stroke-dasharray="1.5 1.2"/><line x1="183.4" y1="127" x2="183.4" y2="250" stroke="#909090" stroke-width="0.6" stroke-dasharray="1.5 1.2"/><line x1="204.2" y1="127" x2="204.2" y2="250" stroke="#909090" stroke-width="0.6" stroke-dasharray="1.5 1.2"/><line x1="213.8" y1="127" x2="213.8" y2="250" stroke="#909090" stroke-width="0.6" stroke-dasharray="1.5 1.2"/><line x1="173.0" y1="127" x2="213.8" y2="127" stroke="#909090" stroke-width="0.6" stroke-dasharray="1.5 1.2"/><line x1="165.30" y1="143.00" x2="173.60" y2="148.20" stroke="#8080b6" stroke-width="1.7"/><line x1="165.30" y1="153.40" x2="173.60" y2="148.20" stroke="#8080b6" stroke-width="1.7"/><line x1="191.30" y1="143.00" x2="183.00" y2="148.20" stroke="#8080b6" stroke-width="1.7"/><line x1="191.30" y1="153.40" x2="183.00" y2="148.20" stroke="#8080b6" stroke-width="1.7"/><polygon points="173.60,148.20 178.30,143.90 183.00,148.20 178.30,152.50" fill="none" stroke="#8080b6" stroke-width="1.7" stroke-linejoin="round"/><line x1="196.00" y1="143.00" x2="204.30" y2="148.20" stroke="#8080b6" stroke-width="1.7"/><line x1="196.00" y1="153.40" x2="204.30" y2="148.20" stroke="#8080b6" stroke-width="1.7"/><line x1="221.60" y1="143.00" x2="213.30" y2="148.20" stroke="#8080b6" stroke-width="1.7"/><line x1="221.60" y1="153.40" x2="213.30" y2="148.20" stroke="#8080b6" stroke-width="1.7"/><polygon points="204.30,148.20 208.80,143.90 213.30,148.20 208.80,152.50" fill="none" stroke="#8080b6" stroke-width="1.7" stroke-linejoin="round"/><line x1="165.30" y1="162.00" x2="173.60" y2="167.20" stroke="#8080b6" stroke-width="1.7"/><line x1="165.30" y1="172.40" x2="173.60" y2="167.20" stroke="#8080b6" stroke-width="1.7"/><line x1="191.30" y1="162.00" x2="183.00" y2="167.20" stroke="#8080b6" stroke-width="1.7"/><line x1="191.30" y1="172.40" x2="183.00" y2="167.20" stroke="#8080b6" stroke-width="1.7"/><polygon points="173.60,167.20 178.30,162.90 183.00,167.20 178.30,171.50" fill="none" stroke="#8080b6" stroke-width="1.7" stroke-linejoin="round"/><line x1="196.00" y1="162.00" x2="204.30" y2="167.20" stroke="#8080b6" stroke-width="1.7"/><line x1="196.00" y1="172.40" x2="204.30" y2="167.20" stroke="#8080b6" stroke-width="1.7"/><line x1="221.60" y1="162.00" x2="213.30" y2="167.20" stroke="#8080b6" stroke-width="1.7"/><line x1="221.60" y1="172.40" x2="213.30" y2="167.20" stroke="#8080b6" stroke-width="1.7"/><polygon points="204.30,167.20 208.80,162.90 213.30,167.20 208.80,171.50" fill="none" stroke="#8080b6" stroke-width="1.7" stroke-linejoin="round"/><line x1="173.60" y1="150.20" x2="173.60" y2="165.20" stroke="#8080b6" stroke-width="1.5"/><line x1="183.00" y1="150.20" x2="183.00" y2="165.20" stroke="#8080b6" stroke-width="1.5"/><line x1="204.30" y1="150.20" x2="204.30" y2="165.20" stroke="#8080b6" stroke-width="1.5"/><line x1="213.30" y1="150.20" x2="213.30" y2="165.20" stroke="#8080b6" stroke-width="1.5"/><line x1="183.00" y1="148.20" x2="204.30" y2="167.20" stroke="#8080b6" stroke-width="1.5"/><line x1="183.00" y1="167.20" x2="204.30" y2="148.20" stroke="#8080b6" stroke-width="1.5"/><line x1="186.00" y1="158.20" x2="173.60" y2="148.20" stroke="#8080b6" stroke-width="1.3"/><line x1="186.00" y1="158.20" x2="173.60" y2="167.20" stroke="#8080b6" stroke-width="1.3"/><line x1="186.00" y1="158.20" x2="183.00" y2="148.20" stroke="#8080b6" stroke-width="1.3"/><line x1="186.00" y1="158.20" x2="183.00" y2="167.20" stroke="#8080b6" stroke-width="1.3"/><line x1="170.00" y1="158.20" x2="217.00" y2="158.20" stroke="#8080b6" stroke-width="1.3"/><line x1="199.30" y1="159.00" x2="192.30" y2="159.00" stroke="#6aaa6c" stroke-width="1.4"/><line x1="199.30" y1="159.00" x2="207.30" y2="159.00" stroke="#6aaa6c" stroke-width="1.4"/><line x1="199.30" y1="159.00" x2="193.80" y2="155.50" stroke="#6aaa6c" stroke-width="1.4"/><line x1="199.30" y1="159.00" x2="204.80" y2="162.50" stroke="#6aaa6c" stroke-width="1.4"/><line x1="199.30" y1="159.00" x2="193.80" y2="162.50" stroke="#6aaa6c" stroke-width="1.4"/><line x1="199.30" y1="159.00" x2="204.80" y2="155.50" stroke="#6aaa6c" stroke-width="1.4"/><line x1="186.00" y1="138.00" x2="180.00" y2="146.00" stroke="#dc9c48" stroke-width="1.3"/><line x1="186.00" y1="177.40" x2="180.00" y2="169.40" stroke="#dc9c48" stroke-width="1.3"/><line x1="186.00" y1="138.00" x2="186.00" y2="150.00" stroke="#dc9c48" stroke-width="1.3"/><line x1="186.00" y1="177.40" x2="186.00" y2="165.40" stroke="#dc9c48" stroke-width="1.3"/><line x1="186.00" y1="138.00" x2="193.78" y2="141.60" stroke="#dc9c48" stroke-width="1.4"/><line x1="193.78" y1="141.60" x2="203.30" y2="146.00" stroke="#8080b6" stroke-width="1.4"/><line x1="186.00" y1="177.40" x2="193.78" y2="173.80" stroke="#dc9c48" stroke-width="1.4"/><line x1="193.78" y1="173.80" x2="203.30" y2="169.40" stroke="#8080b6" stroke-width="1.4"/><circle cx="186.00" cy="158.20" r="3" fill="#8480c4"/><circle cx="199.30" cy="159.00" r="2.6" fill="#5d9e60"/><circle cx="186.00" cy="138.00" r="3" fill="#e3982c"/><circle cx="186.00" cy="177.40" r="3" fill="#e3982c"/><polygon points="173.60,143.60 171.40,147.20 172.10,147.20 172.10,152.00 175.10,152.00 175.10,147.20 175.80,147.20" fill="#d80a14" stroke="#d80a14" stroke-width="0.3" stroke-linejoin="round"/><polygon points="183.00,143.60 180.80,147.20 181.50,147.20 181.50,152.00 184.50,152.00 184.50,147.20 185.20,147.20" fill="#d80a14" stroke="#d80a14" stroke-width="0.3" stroke-linejoin="round"/><polygon points="204.30,143.60 202.10,147.20 202.80,147.20 202.80,152.00 205.80,152.00 205.80,147.20 206.50,147.20" fill="#d80a14" stroke="#d80a14" stroke-width="0.3" stroke-linejoin="round"/><polygon points="213.30,143.60 211.10,147.20 211.80,147.20 211.80,152.00 214.80,152.00 214.80,147.20 215.50,147.20" fill="#d80a14" stroke="#d80a14" stroke-width="0.3" stroke-linejoin="round"/><polygon points="173.60,162.60 171.40,166.20 172.10,166.20 172.10,171.00 175.10,171.00 175.10,166.20 175.80,166.20" fill="#d80a14" stroke="#d80a14" stroke-width="0.3" stroke-linejoin="round"/><polygon points="183.00,162.60 180.80,166.20 181.50,166.20 181.50,171.00 184.50,171.00 184.50,166.20 185.20,166.20" fill="#d80a14" stroke="#d80a14" stroke-width="0.3" stroke-linejoin="round"/><polygon points="204.30,162.60 202.10,166.20 202.80,166.20 202.80,171.00 205.80,171.00 205.80,166.20 206.50,166.20" fill="#d80a14" stroke="#d80a14" stroke-width="0.3" stroke-linejoin="round"/><polygon points="213.30,162.60 211.10,166.20 211.80,166.20 211.80,171.00 214.80,171.00 214.80,166.20 215.50,166.20" fill="#d80a14" stroke="#d80a14" stroke-width="0.3" stroke-linejoin="round"/><line x1="165.30" y1="205.30" x2="173.60" y2="210.50" stroke="#8080b6" stroke-width="1.7"/><line x1="165.30" y1="215.70" x2="173.60" y2="210.50" stroke="#8080b6" stroke-width="1.7"/><line x1="191.30" y1="205.30" x2="183.00" y2="210.50" stroke="#8080b6" stroke-width="1.7"/><line x1="191.30" y1="215.70" x2="183.00" y2="210.50" stroke="#8080b6" stroke-width="1.7"/><polygon points="173.60,210.50 178.30,206.20 183.00,210.50 178.30,214.80" fill="none" stroke="#8080b6" stroke-width="1.7" stroke-linejoin="round"/><line x1="196.00" y1="205.30" x2="204.30" y2="210.50" stroke="#8080b6" stroke-width="1.7"/><line x1="196.00" y1="215.70" x2="204.30" y2="210.50" stroke="#8080b6" stroke-width="1.7"/><line x1="221.60" y1="205.30" x2="213.30" y2="210.50" stroke="#8080b6" stroke-width="1.7"/><line x1="221.60" y1="215.70" x2="213.30" y2="210.50" stroke="#8080b6" stroke-width="1.7"/><polygon points="204.30,210.50 208.80,206.20 213.30,210.50 208.80,214.80" fill="none" stroke="#8080b6" stroke-width="1.7" stroke-linejoin="round"/><line x1="165.30" y1="224.30" x2="173.60" y2="229.50" stroke="#8080b6" stroke-width="1.7"/><line x1="165.30" y1="234.70" x2="173.60" y2="229.50" stroke="#8080b6" stroke-width="1.7"/><line x1="191.30" y1="224.30" x2="183.00" y2="229.50" stroke="#8080b6" stroke-width="1.7"/><line x1="191.30" y1="234.70" x2="183.00" y2="229.50" stroke="#8080b6" stroke-width="1.7"/><polygon points="173.60,229.50 178.30,225.20 183.00,229.50 178.30,233.80" fill="none" stroke="#8080b6" stroke-width="1.7" stroke-linejoin="round"/><line x1="196.00" y1="224.30" x2="204.30" y2="229.50" stroke="#8080b6" stroke-width="1.7"/><line x1="196.00" y1="234.70" x2="204.30" y2="229.50" stroke="#8080b6" stroke-width="1.7"/><line x1="221.60" y1="224.30" x2="213.30" y2="229.50" stroke="#8080b6" stroke-width="1.7"/><line x1="221.60" y1="234.70" x2="213.30" y2="229.50" stroke="#8080b6" stroke-width="1.7"/><polygon points="204.30,229.50 208.80,225.20 213.30,229.50 208.80,233.80" fill="none" stroke="#8080b6" stroke-width="1.7" stroke-linejoin="round"/><line x1="173.60" y1="212.50" x2="173.60" y2="227.50" stroke="#8080b6" stroke-width="1.5"/><line x1="183.00" y1="212.50" x2="183.00" y2="227.50" stroke="#8080b6" stroke-width="1.5"/><line x1="204.30" y1="212.50" x2="204.30" y2="227.50" stroke="#8080b6" stroke-width="1.5"/><line x1="213.30" y1="212.50" x2="213.30" y2="227.50" stroke="#8080b6" stroke-width="1.5"/><line x1="183.00" y1="210.50" x2="204.30" y2="229.50" stroke="#8080b6" stroke-width="1.5"/><line x1="183.00" y1="229.50" x2="204.30" y2="210.50" stroke="#8080b6" stroke-width="1.5"/><line x1="202.60" y1="220.00" x2="204.30" y2="210.50" stroke="#8080b6" stroke-width="1.3"/><line x1="202.60" y1="220.00" x2="204.30" y2="229.50" stroke="#8080b6" stroke-width="1.3"/><line x1="202.60" y1="220.00" x2="213.30" y2="210.50" stroke="#8080b6" stroke-width="1.3"/><line x1="202.60" y1="220.00" x2="213.30" y2="229.50" stroke="#8080b6" stroke-width="1.3"/><line x1="170.00" y1="220.00" x2="217.00" y2="220.00" stroke="#8080b6" stroke-width="1.3"/><line x1="187.60" y1="220.60" x2="180.60" y2="220.60" stroke="#6aaa6c" stroke-width="1.4"/><line x1="187.60" y1="220.60" x2="195.60" y2="220.60" stroke="#6aaa6c" stroke-width="1.4"/><line x1="187.60" y1="220.60" x2="182.10" y2="217.10" stroke="#6aaa6c" stroke-width="1.4"/><line x1="187.60" y1="220.60" x2="193.10" y2="224.10" stroke="#6aaa6c" stroke-width="1.4"/><line x1="187.60" y1="220.60" x2="182.10" y2="224.10" stroke="#6aaa6c" stroke-width="1.4"/><line x1="187.60" y1="220.60" x2="193.10" y2="217.10" stroke="#6aaa6c" stroke-width="1.4"/><line x1="201.10" y1="200.30" x2="207.30" y2="208.30" stroke="#dc9c48" stroke-width="1.3"/><line x1="201.10" y1="239.70" x2="207.30" y2="231.70" stroke="#dc9c48" stroke-width="1.3"/><line x1="201.10" y1="200.30" x2="201.10" y2="212.30" stroke="#dc9c48" stroke-width="1.3"/><line x1="201.10" y1="239.70" x2="201.10" y2="227.70" stroke="#dc9c48" stroke-width="1.3"/><line x1="201.10" y1="200.30" x2="193.41" y2="203.90" stroke="#dc9c48" stroke-width="1.4"/><line x1="193.41" y1="203.90" x2="184.00" y2="208.30" stroke="#8080b6" stroke-width="1.4"/><line x1="201.10" y1="239.70" x2="193.41" y2="236.10" stroke="#dc9c48" stroke-width="1.4"/><line x1="193.41" y1="236.10" x2="184.00" y2="231.70" stroke="#8080b6" stroke-width="1.4"/><circle cx="202.60" cy="220.00" r="3" fill="#8480c4"/><circle cx="187.60" cy="220.60" r="2.6" fill="#5d9e60"/><circle cx="201.10" cy="200.30" r="3" fill="#e3982c"/><circle cx="201.10" cy="239.70" r="3" fill="#e3982c"/><polygon points="173.60,206.30 171.50,208.90 172.30,208.90 172.30,212.10 171.50,212.10 173.60,214.70 175.70,212.10 174.90,212.10 174.90,208.90 175.70,208.90" fill="#2a7de8"/><polygon points="183.00,206.30 180.90,208.90 181.70,208.90 181.70,212.10 180.90,212.10 183.00,214.70 185.10,212.10 184.30,212.10 184.30,208.90 185.10,208.90" fill="#2a7de8"/><polygon points="204.30,206.30 202.20,208.90 203.00,208.90 203.00,212.10 202.20,212.10 204.30,214.70 206.40,212.10 205.60,212.10 205.60,208.90 206.40,208.90" fill="#2a7de8"/><polygon points="213.30,206.30 211.20,208.90 212.00,208.90 212.00,212.10 211.20,212.10 213.30,214.70 215.40,212.10 214.60,212.10 214.60,208.90 215.40,208.90" fill="#2a7de8"/><polygon points="173.60,225.30 171.50,227.90 172.30,227.90 172.30,231.10 171.50,231.10 173.60,233.70 175.70,231.10 174.90,231.10 174.90,227.90 175.70,227.90" fill="#2a7de8"/><polygon points="183.00,225.30 180.90,227.90 181.70,227.90 181.70,231.10 180.90,231.10 183.00,233.70 185.10,231.10 184.30,231.10 184.30,227.90 185.10,227.90" fill="#2a7de8"/><polygon points="204.30,225.30 202.20,227.90 203.00,227.90 203.00,231.10 202.20,231.10 204.30,233.70 206.40,231.10 205.60,231.10 205.60,227.90 206.40,227.90" fill="#2a7de8"/><polygon points="213.30,225.30 211.20,227.90 212.00,227.90 212.00,231.10 211.20,231.10 213.30,233.70 215.40,231.10 214.60,231.10 214.60,227.90 215.40,227.90" fill="#2a7de8"/><polygon points="203.20,183.30 201.10,185.90 201.90,185.90 201.90,189.10 201.10,189.10 203.20,191.70 205.30,189.10 204.50,189.10 204.50,185.90 205.30,185.90" fill="#2a7de8"/>
<rect x="257" y="127.25" width="90.6" height="114.1" fill="#cecece"/>
<rect x="347.6" y="127.25" width="46.6" height="114.1" fill="#bfe2fa"/>
<rect x="257" y="127.25" width="137.2" height="114.1" fill="none" stroke="#9c9c9c" stroke-width="0.8"/>
<text x="255" y="129.35" font-size="5.8" fill="#444" text-anchor="end">20</text>
<line x1="257" y1="127.25" x2="258.5" y2="127.25" stroke="#999" stroke-width="0.5"/>
<text x="255" y="152.15" font-size="5.8" fill="#444" text-anchor="end">15</text>
<line x1="257" y1="150.05" x2="258.5" y2="150.05" stroke="#999" stroke-width="0.5"/>
<text x="255" y="174.95" font-size="5.8" fill="#444" text-anchor="end">10</text>
<line x1="257" y1="172.85" x2="258.5" y2="172.85" stroke="#999" stroke-width="0.5"/>
<text x="255" y="197.75" font-size="5.8" fill="#444" text-anchor="end">5</text>
<line x1="257" y1="195.65" x2="258.5" y2="195.65" stroke="#999" stroke-width="0.5"/>
<text x="255" y="220.55" font-size="5.8" fill="#444" text-anchor="end">0</text>
<line x1="257" y1="218.45" x2="258.5" y2="218.45" stroke="#999" stroke-width="0.5"/>
<text x="255" y="243.35" font-size="5.8" fill="#444" text-anchor="end">-5</text>
<line x1="257" y1="241.25" x2="258.5" y2="241.25" stroke="#999" stroke-width="0.5"/>
<line x1="280.2" y1="241.3" x2="280.2" y2="239.8" stroke="#999" stroke-width="0.5"/>
<line x1="326.0" y1="241.3" x2="326.0" y2="239.8" stroke="#999" stroke-width="0.5"/>
<line x1="371.7" y1="241.3" x2="371.7" y2="239.8" stroke="#999" stroke-width="0.5"/>
<text x="236.3" y="128.2" font-size="14.5" font-weight="bold" font-family="Liberation Serif, serif" fill="#111">g</text>
<text x="296.2" y="140.9" font-size="11.5" fill="#1a1a1a" stroke="#1a1a1a" stroke-width="0.25" textLength="16.3" lengthAdjust="spacingAndGlyphs">FM</text>
<text x="362.8" y="140.9" font-size="11.5" fill="#2f4ee0" stroke="#2f4ee0" stroke-width="0.25" textLength="18.6" lengthAdjust="spacingAndGlyphs">FiM</text>
<polyline points="280.2,218.45 371.7,218.45" fill="none" stroke="#787878" stroke-width="1.1"/>
<polyline points="280.2,154.61 326.0,208.87 371.7,208.87" fill="none" stroke="#f0505a" stroke-width="1.4"/>
<polyline points="326.0,200.21 371.7,221.64" fill="none" stroke="#2f6fd6" stroke-width="1.4"/>
<rect x="277.90" y="216.15" width="4.60" height="4.60" fill="#e4e4e4" stroke="#555" stroke-width="0.9"/>
<rect x="323.70" y="216.15" width="4.60" height="4.60" fill="#e4e4e4" stroke="#555" stroke-width="0.9"/>
<rect x="369.40" y="216.15" width="4.60" height="4.60" fill="#dceefa" stroke="#555" stroke-width="0.9"/>
<circle cx="280.20" cy="154.61" r="2.70" fill="#f4dede" stroke="#f0505a" stroke-width="1.0"/>
<circle cx="326.00" cy="208.87" r="2.70" fill="#f4dede" stroke="#f0505a" stroke-width="1.0"/>
<circle cx="371.70" cy="208.87" r="2.70" fill="#f0e8f4" stroke="#f0505a" stroke-width="1.0"/>
<polygon points="326.00,197.02 322.81,202.53 329.19,202.53" fill="#d8e4f4" stroke="#2f6fd6" stroke-width="1.0"/>
<polygon points="371.70,218.45 368.51,223.96 374.89,223.96" fill="#d8e8fa" stroke="#2f6fd6" stroke-width="1.0"/>
<line x1="329.5" y1="154" x2="347.5" y2="154" stroke="#6a6a6a" stroke-width="1"/>
<rect x="336.00" y="151.80" width="4.40" height="4.40" fill="#e8e8e8" stroke="#6a6a6a" stroke-width="1.0"/>
<text x="349.7" y="156.60" font-size="7.4" fill="#222" stroke="#222" stroke-width="0.12" textLength="24" lengthAdjust="spacingAndGlyphs">FM-FM</text>
<line x1="329.5" y1="163" x2="347.5" y2="163" stroke="#f0505a" stroke-width="1"/>
<circle cx="338.20" cy="163.00" r="2.20" fill="#e8e8e8" stroke="#f0505a" stroke-width="1.0"/>
<text x="349.7" y="165.60" font-size="7.4" fill="#222" stroke="#222" stroke-width="0.12" textLength="28.5" lengthAdjust="spacingAndGlyphs">FM-AFM</text>
<line x1="329.5" y1="172" x2="347.5" y2="172" stroke="#2f6fd6" stroke-width="1"/>
<polygon points="338.20,169.58 335.78,173.76 340.62,173.76" fill="#e8e8e8" stroke="#2f6fd6" stroke-width="1.0"/>
<text x="349.7" y="174.60" font-size="7.4" fill="#222" stroke="#222" stroke-width="0.12" textLength="12" lengthAdjust="spacingAndGlyphs">FiM</text>
<text transform="translate(247.3,201.5) rotate(-90)" font-size="5" fill="#555" font-family="Liberation Serif, serif" textLength="25.8" lengthAdjust="spacingAndGlyphs">ΔE (meV/Fe)</text>
<text x="272" y="250.6" font-size="7" fill="#1a1a1a" stroke="#1a1a1a" stroke-width="0.15" textLength="7" lengthAdjust="spacingAndGlyphs">Te</text>
<text x="279.2" y="252.5" font-size="4.5" fill="#222">Ge</text>
<text x="309.5" y="250.6" font-size="7" fill="#1a1a1a" stroke="#1a1a1a" stroke-width="0.15" textLength="6.5" lengthAdjust="spacingAndGlyphs">Fe</text>
<text x="325" y="250.6" font-size="7" fill="#1a1a1a" stroke="#1a1a1a" stroke-width="0.15" textLength="15" lengthAdjust="spacingAndGlyphs">GeTe</text>
<text x="346.7" y="250.6" font-size="7" fill="#1a1a1a" stroke="#1a1a1a" stroke-width="0.15" textLength="6.8" lengthAdjust="spacingAndGlyphs">Te</text>
<text x="360" y="250.6" font-size="7" fill="#1a1a1a" stroke="#1a1a1a" stroke-width="0.15" textLength="10.7" lengthAdjust="spacingAndGlyphs">aFe</text>
<text x="379" y="250.6" font-size="7" fill="#1a1a1a" stroke="#1a1a1a" stroke-width="0.15" textLength="14" lengthAdjust="spacingAndGlyphs">GeTe</text>
</svg>
</body></html>
